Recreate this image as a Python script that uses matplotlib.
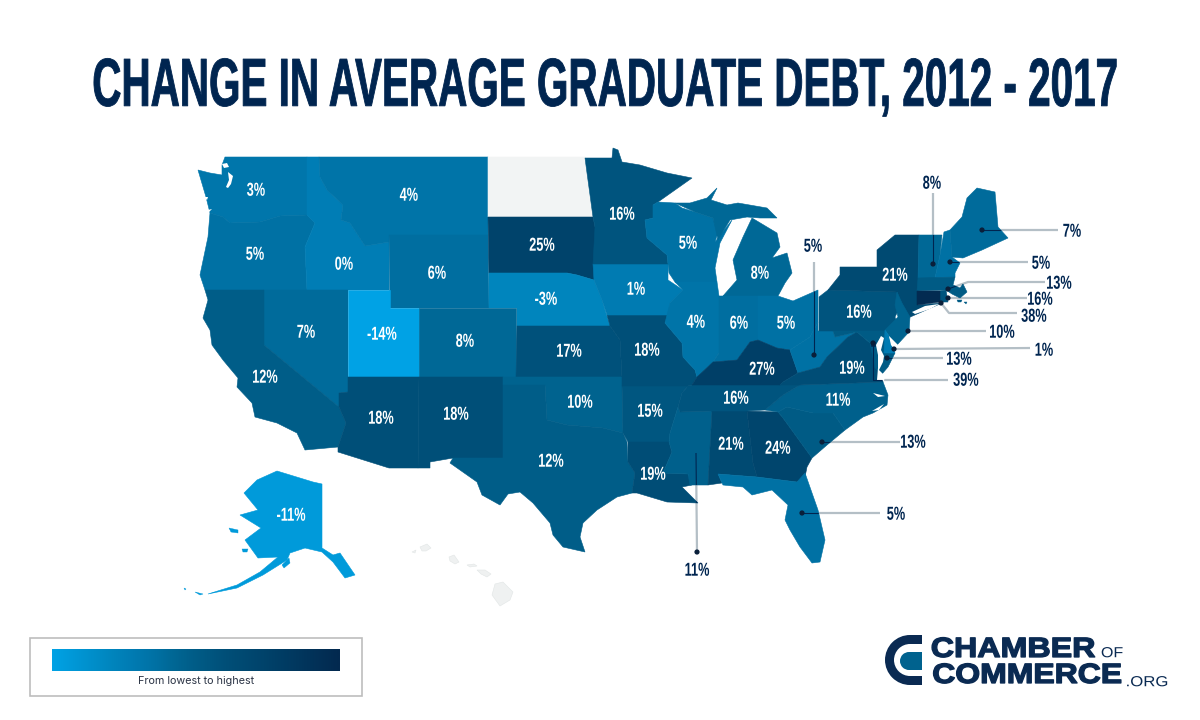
from __future__ import annotations

import matplotlib

matplotlib.use("Agg")
import matplotlib.pyplot as plt
import numpy as np
from matplotlib.colors import LinearSegmentedColormap
from matplotlib.patches import Circle, Polygon, Rectangle, Wedge
from matplotlib.path import Path
from matplotlib.patheffects import AbstractPathEffect
from matplotlib.transforms import Affine2D

TITLE = "CHANGE IN AVERAGE GRADUATE DEBT, 2012 - 2017"
LEGEND_TEXT = "From lowest to highest"

STATES = [
    "WA", "OR", "CA", "ID", "NV", "MT", "WY", "UT", "AZ", "CO", "NM", "ND", "SD", "NE", "KS",
    "OK", "TX", "MN", "IA", "MO", "AR", "LA", "WI", "IL", "MI", "IN", "OH", "KY", "TN", "MS",
    "AL", "GA", "FL", "SC", "NC", "VA", "WV", "PA", "NY", "AK",
]
CHANGE = [
    3, 5, 12, 0, 7, 4, 6, -14, 18, 8, 18, None, 25, -3, 17,
    10, 12, 16, 1, 18, 15, 19, 5, 4, 8, 6, 5, 27, 16, 11,
    21, 24, 5, 13, 11, 19, 5, 16, 21, -11,
]
EAST_STATES = ["VT", "NH", "ME", "MA", "RI", "CT", "NJ", "DE", "MD", "DC"]
EAST_CHANGE = [8, 5, 7, 13, 16, 38, 10, 1, 13, 39]

COLOR_VALUES = [-14, -3, 0, 5, 8, 12, 18, 25, 39]
COLOR_STOPS = ["#00a2e5", "#0085bd", "#007db5", "#0071a4", "#006896", "#005d88", "#004f78", "#00436b", "#03294f"]
NAVY = "#002550"
DOT = "#0a1f3a"
LEADER = "#b4bfc6"
NARROW = ["Liberation Sans Narrow", "Liberation Sans"]
WIDE = ["Liberation Sans"]

# pixel outlines of the map
OUTLINES = {
    "WA": [(225, 157), (307, 157), (307, 215), (280, 216), (260, 222), (230, 223), (223, 217), (210, 213),
           (206, 197), (198, 170), (210, 173), (222, 175), (222, 165)],
    "OR": [(210, 213), (223, 217), (230, 223), (260, 222), (280, 216), (307, 215), (315, 223), (305, 247),
           (307, 290), (205, 290), (200, 275), (208, 237)],
    "ID": [(307, 157), (319, 157), (320, 177), (327, 190), (343, 205), (341, 220), (350, 223), (365, 246),
           (389, 242), (389, 290), (307, 290), (305, 247), (315, 223), (307, 215)],
    "MT": [(319, 157), (488, 157), (488, 235), (389, 235), (389, 242), (365, 246), (350, 223), (341, 220),
           (343, 205), (327, 190), (320, 177)],
    "WY": [(389, 235), (488, 235), (489, 308), (390, 308)],
    "ND": [(488, 157), (585, 157), (587, 173), (593, 217), (488, 217)],
    "SD": [(488, 217), (593, 217), (595, 227), (595, 264), (594, 280), (577, 275), (567, 273), (489, 273)],
    "NE": [(489, 273), (567, 273), (577, 275), (594, 280), (602, 300), (610, 326), (517, 326), (517, 308), (489, 308)],
    "NV": [(264, 290), (348, 290), (348, 392), (339, 393), (339, 407), (264, 345)],
    "CA": [(205, 290), (264, 290), (264, 345), (339, 407), (346, 423), (338, 447), (305, 450), (297, 433),
           (277, 423), (255, 417), (252, 403), (237, 387), (238, 378), (223, 360), (212, 345), (210, 330),
           (203, 318), (208, 300)],
    "UT": [(348, 290), (390, 290), (390, 308), (419, 308), (419, 377), (348, 377)],
    "CO": [(419, 308), (516, 308), (516, 377), (419, 377)],
    "KS": [(517, 326), (610, 326), (620, 340), (622, 377), (516, 377)],
    "AZ": [(348, 377), (419, 377), (418, 468), (389, 468), (338, 452), (338, 447), (346, 423), (339, 407),
           (339, 393), (348, 392)],
    "NM": [(419, 377), (503, 377), (503, 458), (453, 458), (430, 462), (430, 468), (418, 468)],
    "OK": [(503, 377), (622, 377), (622, 386), (623, 433), (603, 428), (567, 425), (547, 420), (545, 385), (503, 385)],
    "TX": [(503, 385), (545, 385), (547, 420), (567, 425), (603, 428), (623, 433), (627, 442), (628, 462),
           (635, 473), (632, 493), (617, 497), (597, 510), (583, 523), (580, 537), (585, 552), (563, 547),
           (553, 535), (550, 523), (533, 503), (520, 492), (508, 494), (500, 505), (482, 495), (477, 482),
           (450, 463), (453, 458), (503, 458)],
    "AR": [(622, 386), (688, 386), (682, 393), (678, 407), (670, 433), (669, 442), (628, 442), (623, 433)],
    "LA": [(628, 442), (669, 442), (672, 452), (663, 473), (688, 474), (692, 485), (682, 487), (698, 503),
           (667, 502), (637, 493), (632, 493), (635, 473), (628, 462)],
    "MS": [(680, 412), (712, 411), (708, 485), (690, 485), (688, 474), (663, 473), (672, 452), (669, 442),
           (670, 433), (678, 407)],
    "AL": [(712, 411), (747, 411), (753, 463), (757, 477), (718, 474), (722, 483), (708, 485)],
    "GA": [(747, 411), (778, 412), (783, 418), (812, 458), (807, 467), (805, 477), (797, 482), (757, 477), (753, 463)],
    "SC": [(778, 412), (787, 407), (813, 413), (833, 413), (845, 430), (827, 445), (812, 458), (783, 418)],
    "NC": [(765, 410), (783, 395), (800, 385), (883, 382), (888, 395), (887, 405), (873, 413), (863, 417),
           (845, 430), (833, 413), (813, 413), (787, 407), (778, 412)],
    "TN": [(692, 385), (800, 385), (783, 395), (765, 410), (747, 411), (712, 411), (680, 412), (678, 407),
           (682, 393), (688, 386)],
    "MO": [(607, 315), (669, 315), (665, 323), (682, 343), (683, 357), (695, 370), (697, 377), (692, 385),
           (688, 386), (622, 386), (622, 377), (620, 340), (610, 326)],
    "IA": [(593, 264), (668, 264), (668, 280), (683, 290), (670, 303), (669, 315), (607, 315), (602, 300), (594, 280)],
    "MN": [(585, 158), (612, 158), (613, 148), (618, 150), (622, 162), (640, 165), (667, 173), (692, 178),
           (658, 202), (653, 205), (653, 218), (645, 220), (647, 238), (667, 255), (668, 264), (593, 264),
           (595, 227), (593, 217), (587, 173)],
    "WI": [(658, 202), (675, 203), (682, 208), (695, 212), (713, 218), (718, 233), (715, 242), (732, 220),
           (720, 243), (715, 268), (717, 282), (675, 282), (669, 273), (668, 264), (667, 255), (647, 238),
           (645, 220), (653, 218), (653, 205)],
    "MI": [(675, 203), (690, 203), (707, 198), (717, 188), (711, 200), (727, 205), (738, 203), (767, 208),
           (777, 218), (760, 218), (747, 217), (730, 220), (718, 240), (713, 218), (695, 212)],
    "MI2": [(752, 218), (777, 233), (780, 247), (772, 258), (787, 253), (792, 273), (785, 283), (778, 296),
            (723, 296), (737, 280), (733, 260), (743, 237)],
    "IL": [(675, 282), (717, 282), (719, 296), (719, 353), (713, 362), (697, 377), (695, 370), (683, 357),
           (682, 343), (665, 323), (670, 303), (683, 290)],
    "IN": [(719, 296), (758, 296), (758, 340), (750, 342), (737, 360), (713, 362), (719, 353)],
    "OH": [(758, 296), (778, 296), (793, 301), (818, 290), (818, 322), (810, 337), (790, 350), (777, 348), (758, 340)],
    "KY": [(697, 377), (713, 362), (737, 360), (750, 342), (758, 340), (777, 348), (790, 350), (798, 373),
           (783, 382), (780, 385), (692, 385)],
    "WV": [(818, 322), (818, 331), (833, 331), (835, 337), (857, 332), (848, 337), (827, 357), (820, 367),
           (798, 373), (790, 350), (810, 337)],
    "VA": [(783, 382), (798, 373), (820, 367), (827, 357), (848, 337), (857, 332), (870, 343), (878, 360),
           (882, 377), (883, 382), (800, 385), (780, 385)],
    "PA": [(819, 297), (828, 290), (897, 292), (902, 303), (895, 317), (897, 323), (887, 331), (819, 331)],
    "NY": [(828, 290), (840, 275), (840, 267), (877, 267), (877, 250), (895, 235), (919, 235), (918, 288),
           (917, 305), (942, 303), (908, 318), (903, 307), (897, 292)],
    "NJ": [(897, 292), (902, 303), (910, 317), (909, 332), (897, 345), (889, 336), (885, 330), (898, 317), (895, 305)],
    "MD": [(833, 331), (885, 331), (885, 353), (895, 353), (888, 367), (882, 374), (875, 368), (870, 343),
           (857, 332), (835, 337)],
    "DE": [(885, 330), (889, 336), (892, 346), (895, 353), (884, 353)],
    "DC": [(871, 342), (875, 342), (875, 346), (871, 346)],
    "VT": [(919, 235), (942, 235), (940, 255), (935, 278), (918, 278)],
    "NH": [(944, 232), (950, 230), (952, 257), (960, 263), (955, 273), (955, 277), (935, 278), (940, 255)],
    "ME": [(950, 230), (962, 217), (967, 198), (977, 188), (995, 192), (998, 227), (1008, 238), (982, 250),
           (963, 258), (952, 257)],
    "MA": [(918, 278), (955, 277), (953, 285), (960, 288), (963, 284), (967, 292), (960, 298), (952, 294),
           (946, 290), (917, 291)],
    "RI": [(940, 291), (946, 290), (948, 302), (940, 302)],
    "CT": [(917, 291), (940, 291), (940, 302), (917, 305)],
    "FL": [(718, 474), (757, 477), (797, 482), (805, 473), (818, 510), (825, 540), (820, 562), (812, 563),
           (800, 547), (790, 530), (785, 520), (788, 505), (772, 490), (752, 495), (743, 487), (723, 485)],
    "AK": [(322, 484), (322, 548), (333, 555), (340, 553), (355, 575), (345, 578), (333, 562), (322, 552),
           (305, 548), (290, 553), (287, 560), (263, 575), (237, 588), (208, 594), (237, 585), (260, 572),
           (278, 557), (258, 558), (245, 540), (261, 528), (240, 515), (258, 510), (244, 493), (257, 480),
           (277, 471), (313, 482)],
}
AK_ISLANDS = [
    [(229, 528), (238, 530), (238, 533), (231, 532)],
    [(282, 565), (289, 558), (290, 563), (284, 568)],
    [(242, 549), (248, 549), (247, 552), (243, 552)],
    [(184, 588), (186, 589), (185, 590)],
    [(195, 592), (203, 594), (200, 595)],
]
MA_ISLANDS = [
    [(957, 300), (962, 300), (961, 302), (958, 302)],
    [(964, 302), (967, 302), (966, 304)],
]
HAWAII = [
    [(420, 547), (427, 544), (431, 548), (426, 551), (422, 551)],
    [(412, 552), (416, 550), (415, 553)],
    [(449, 557), (454, 555), (459, 562), (455, 564), (450, 561)],
    [(467, 565), (474, 564), (477, 566), (470, 567)],
    [(477, 570), (485, 570), (491, 574), (487, 577), (481, 574)],
    [(495, 584), (503, 582), (513, 592), (510, 600), (500, 606), (492, 595)],
]
WATER = [
    # puget sound and the coast of WA
    [(222, 164), (227, 163), (229, 167), (224, 168)],
    [(228, 172), (233, 176), (231, 184), (228, 188), (226, 187), (229, 180)],
    [(204, 197), (208, 197), (207, 200)],
    [(208, 210), (212, 209), (209, 212)],
    # chesapeake bay, delaware bay
    [(881, 336), (884, 338), (881, 350), (884, 356), (883, 362), (879, 370), (885, 376), (884, 381),
     (877, 380), (878, 368), (878, 355), (876, 345)],
    [(889, 336), (898, 345), (895, 350), (891, 345)],
    # long island sound
    [(912, 312), (925, 306), (939, 304), (930, 309), (915, 314)],
    # pamlico sound
    [(873, 393), (885, 396), (878, 397)],
    [(872, 411), (884, 404), (879, 410)],
]
# name, dot, bend points, label centre
CALLOUTS = [
    ("VT", (933, 264), [(933, 193)], (932, 182)),
    ("NH", (950, 262), [(1028, 262)], (1041, 262)),
    ("ME", (982, 230), [(1058, 230)], (1072, 230)),
    ("MA", (948, 289), [(968, 282), (1045, 282)], (1059, 282)),
    ("RI", (948, 298), [(1027, 298)], (1040, 298)),
    ("CT", (941, 303), [(949, 313), (1017, 313)], (1034, 315)),
    ("NJ", (908, 331), [(986, 331)], (1002, 331)),
    ("DE", (894, 349), [(1030, 348)], (1044, 349)),
    ("MD", (887, 358), [(943, 358)], (959, 358)),
    ("DC", (873, 343), [(873, 380), (948, 380)], (966, 379)),
    ("WV", (814, 355), [(814, 262)], (813, 245)),
    ("SC", (822, 442), [(900, 442)], (913, 441)),
    ("FL", (802, 513), [(880, 513)], (896, 513)),
    ("MS", (697, 552), [(696, 453)], (697, 569)),
]
LABEL_POS = {
    "WA": (256, 189), "OR": (255, 253), "CA": (265, 376), "ID": (344, 263), "NV": (306, 331), "MT": (409, 194),
    "WY": (437, 272), "UT": (382, 333), "AZ": (381, 417), "CO": (465, 340), "NM": (456, 413), "SD": (542, 244),
    "NE": (546, 298), "KS": (569, 350), "OK": (580, 401), "TX": (551, 460), "MN": (622, 213), "IA": (636, 288),
    "MO": (647, 349), "AR": (650, 410), "LA": (653, 473), "WI": (688, 242), "IL": (696, 321), "MI": (760, 272),
    "IN": (739, 322), "OH": (786, 322), "KY": (762, 368), "TN": (736, 397), "AL": (731, 443), "GA": (778, 447),
    "NC": (838, 399), "VA": (852, 367), "PA": (859, 311), "NY": (895, 274), "AK": (291, 514),
}

value_by_state = dict(zip(STATES + EAST_STATES, CHANGE + EAST_CHANGE))
value_by_state["MI2"] = value_by_state["MI"]

norm_stops = [(v - COLOR_VALUES[0]) / (COLOR_VALUES[-1] - COLOR_VALUES[0]) for v in COLOR_VALUES]
debt_cmap = LinearSegmentedColormap.from_list("debt", list(zip(norm_stops, COLOR_STOPS)))


def state_color(value):
    if value is None:
        return "#f2f4f4"
    return debt_cmap((value - COLOR_VALUES[0]) / (COLOR_VALUES[-1] - COLOR_VALUES[0]))


class ScaleText(AbstractPathEffect):
    """Scale text about its anchor, no condensed font is installed."""

    def __init__(self, anchor, scale_x, scale_y, stroke=0.0):
        super().__init__()
        self.anchor = anchor
        self.scale_x = scale_x
        self.scale_y = scale_y
        self.stroke = stroke

    def draw_path(self, renderer, gc, tpath, affine, rgbFace=None):
        x, y = self.anchor
        scaled = Affine2D().translate(-x, -y).scale(self.scale_x, self.scale_y).translate(x, y)
        gc0 = renderer.new_gc()
        gc0.copy_properties(gc)
        if self.stroke:
            gc0.set_linewidth(self.stroke)
            gc0.set_foreground(rgbFace)
        renderer.draw_path(gc0, tpath, affine + scaled, rgbFace)
        gc0.restore()


def add_text(ax, x, y, s, size, color, narrow, family=None, weight="bold", stroke=0.0, layout_size=None):
    # y is the middle of the capitals, size the apparent size, narrow the width factor
    cap_height = size * 100 / 72 * 0.716
    baseline = y + cap_height / 2
    font_size = layout_size or size * narrow
    text = ax.text(x, baseline, s, ha="center", va="baseline", fontsize=font_size, color=color,
                   family=family or NARROW, fontweight=weight)
    anchor = (x, 720 - baseline)
    text.set_path_effects([ScaleText(anchor, size * narrow / font_size, size / font_size, stroke)])
    return text


def percent(value):
    return f"{value}%"


def draw_map(ax):
    for name, outline in OUTLINES.items():
        color = state_color(value_by_state[name])
        ax.add_patch(Polygon(outline, closed=True, facecolor=color, edgecolor=color, linewidth=0.4))
    for outline in AK_ISLANDS:
        color = state_color(value_by_state["AK"])
        ax.add_patch(Polygon(outline, closed=True, facecolor=color, edgecolor=color, linewidth=0.3))
    for outline in MA_ISLANDS:
        color = state_color(value_by_state["MA"])
        ax.add_patch(Polygon(outline, closed=True, facecolor=color, edgecolor=color, linewidth=0.3))
    for outline in HAWAII:
        ax.add_patch(Polygon(outline, closed=True, facecolor="#eff1f1", edgecolor="#e2e6e6", linewidth=0.4))
    for outline in WATER:
        ax.add_patch(Polygon(outline, closed=True, facecolor="white", edgecolor="none"))


def draw_labels(ax):
    land = Path.make_compound_path(*[Path(list(o) + [o[0]], closed=True) for o in OUTLINES.values()])
    for name, (x, y) in LABEL_POS.items():
        add_text(ax, x, y, percent(value_by_state[name]), 13.5, "white", 0.68)
    for name, dot, bends, label in CALLOUTS:
        xs = [dot[0]] + [p[0] for p in bends]
        ys = [dot[1]] + [p[1] for p in bends]
        # grey outside the map, thin and dark where it crosses the states
        ax.plot(xs, ys, color=LEADER, linewidth=1.6, solid_capstyle="butt", zorder=0.5)
        over_land, = ax.plot(xs, ys, color=NAVY, linewidth=0.8, solid_capstyle="butt", zorder=3)
        over_land.set_clip_path(land, ax.transData)
        ax.add_patch(Circle(dot, 2.6, facecolor=DOT, edgecolor="none", zorder=4))
        add_text(ax, label[0], label[1], percent(value_by_state[name]), 13.5, NAVY, 0.68)


def draw_legend(ax):
    ax.add_patch(Rectangle((30, 638), 332, 58, facecolor="white", edgecolor="#bdbdbd", linewidth=1.2, zorder=0.2))
    gradient = np.linspace(0, 1, 256).reshape(1, -1)
    ax.imshow(gradient, cmap=debt_cmap, extent=(52, 340, 671, 649), aspect="auto", zorder=2)
    ax.text(196, 681, LEGEND_TEXT, ha="center", va="center", fontsize=7.8, color="#2b3445", family="Inter")


def draw_logo(ax):
    ax.add_patch(Wedge((910, 660), 25, 90, 270, width=9, facecolor="#0a2a52", edgecolor="none"))
    ax.add_patch(Rectangle((910, 635), 12, 9, facecolor="#0a2a52", edgecolor="none"))
    ax.add_patch(Rectangle((910, 676), 12, 9, facecolor="#0a2a52", edgecolor="none"))
    ax.add_patch(Wedge((909, 661), 9, 90, 270, facecolor="#00628e", edgecolor="none"))
    ax.add_patch(Rectangle((909, 652), 13, 18, facecolor="#00628e", edgecolor="none"))
    add_text(ax, 1013, 647, "CHAMBER", 20, "#0a2a52", 1.16, family=WIDE, stroke=1.0, layout_size=14)
    add_text(ax, 1027, 673, "COMMERCE", 20, "#0a2a52", 1.15, family=WIDE, stroke=1.0, layout_size=14)
    add_text(ax, 1112, 652, "OF", 10.5, "#0a2a52", 1.1, family=WIDE, weight="normal")
    add_text(ax, 1147, 681, ".ORG", 10.5, "#0a2a52", 1.15, family=WIDE, weight="normal")


def main() -> None:
    fig = plt.figure(figsize=(12, 7.2), dpi=100)
    ax = fig.add_axes([0, 0, 1, 1])

    draw_map(ax)
    draw_labels(ax)
    draw_legend(ax)
    draw_logo(ax)
    add_text(ax, 605, 81.5, TITLE, 49, NAVY, 0.594, stroke=0.6)

    ax.set_xlim(0, 1200)
    ax.set_ylim(720, 0)
    ax.axis("off")
    fig.savefig("out.png", dpi=100, facecolor="white")
    plt.close(fig)


if __name__ == "__main__":
    main()
